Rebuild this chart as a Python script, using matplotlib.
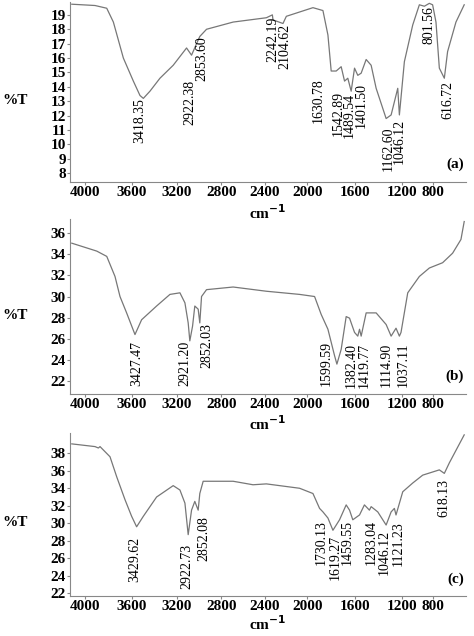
import matplotlib
matplotlib.use("Agg")
import matplotlib.pyplot as plt

# Panel (a)
wn_a = [4111,3883,3768,3703,3605,3507,3442,3409,3344,3246,3116,2985,2936,2887,2855,2789,2528,2202,2143,2137,2039,2006,1745,1647,1598,1566,1517,1468,1435,1403,1370,1337,1305,1272,1223,1174,1125,1027,978,913,897,848,766,701,652,603,571,538,505,456,424,342,261]
t_a = [19.74,19.65,19.46,18.5,16.0,14.4,13.4,13.2,13.7,14.6,15.5,16.7,16.2,17.0,17.5,18.0,18.5,18.8,19.0,18.65,18.4,18.9,19.5,19.3,17.6,15.1,15.1,15.4,14.4,14.6,13.7,15.3,14.8,14.95,15.9,15.5,13.9,11.8,12.05,13.9,12.05,15.75,18.3,19.7,19.6,19.8,19.7,18.5,15.3,14.6,16.45,18.5,19.7]
lab_a = ["3418.35","2922.38","2853.60","2242.19","2104.62","1630.78","1542.89","1489.54","1401.50","1162.60","1046.12","801.56","616.72"]
lx_a = [3442,2953,2838,2137,2023,1696,1501,1386,1272,1011,897,603,424]
ly_a = [13.2,14.5,17.5,18.9,18.4,14.6,13.7,13.6,14.25,11.25,11.8,19.6,14.4]

# Panel (b)
wn_b = [4111,3866,3768,3687,3638,3573,3491,3426,3279,3148,3050,3001,2969,2953,2926,2904,2871,2855,2838,2789,2528,2202,1876,1729,1664,1598,1533,1510,1468,1419,1386,1337,1305,1288,1272,1223,1125,1027,978,930,897,881,815,701,603,473,375,293,261]
t_b = [35.05,34.3,33.8,31.9,30.0,28.45,26.4,27.8,29.1,30.2,30.35,29.4,27.5,25.8,27.2,29.1,28.8,27.5,30.0,30.65,30.9,30.5,30.2,30.0,28.3,26.9,24.4,23.6,25.0,28.1,27.95,26.6,26.25,26.9,26.25,28.45,28.45,27.35,26.25,27.0,26.25,26.6,30.35,31.9,32.7,33.2,34.1,35.4,37.1]
lab_b = ["3427.47","2921.20","2852.03","1599.59","1382.40","1419.77","1114.90","1037.11"]
lx_b = [3475,3001,2789,1615,1370,1240,1027,864]
ly_b = [25.8,25.8,27.5,25.8,25.6,25.6,25.6,25.6]

# Panel (c)
wn_c = [4111,3883,3850,3834,3736,3670,3589,3524,3475,3409,3279,3116,3050,3001,2969,2936,2904,2871,2855,2822,2528,2333,2202,1876,1745,1680,1647,1598,1549,1484,1419,1386,1354,1288,1240,1191,1174,1109,1027,978,946,930,864,766,668,505,456,407,261]
t_c = [39.07,38.76,38.6,38.76,37.6,35.3,32.7,30.8,29.6,30.8,33.0,34.3,33.8,32.3,28.7,31.5,32.5,31.5,33.4,34.8,34.8,34.4,34.5,34.0,33.4,31.7,31.3,30.6,29.2,30.4,32.1,31.5,30.4,30.95,32.1,31.5,31.9,31.3,29.8,31.3,31.7,30.95,33.6,34.6,35.5,36.1,35.7,36.9,40.1]
lab_c = ["3429.62","2922.73","2852.08","1730.13","1619.27","1459.55","1283.04","1046.12","1121.23","618.13"]
lx_c = [3491,2985,2815,1664,1525,1405,1174,1044,913,456]
ly_c = [28.5,27.7,30.8,30.4,28.7,30.4,30.4,29.2,30.2,35.1]

# tick labels as printed in the reference (placed unevenly there)
xtick_labels = ["4000","3600","3200","2800","2400","2000","1600","1200","800"]
xtick_pos = [3980,3524,3083,2643,2218,1800,1330,870,570]
yt_a = list(range(8, 20))
yt_b = list(range(22, 37, 2))
yt_c = list(range(22, 39, 2))

serif = "Liberation Serif"
fig = plt.figure(figsize=(4.74, 6.36), dpi=100)
panels = [
    ([0.148, 0.714, 0.835, 0.283], wn_a, t_a, lab_a, lx_a, ly_a, yt_a, (7.4, 19.9), "(a)"),
    ([0.148, 0.381, 0.835, 0.274], wn_b, t_b, lab_b, lx_b, ly_b, yt_b, (20.8, 37.3), "(b)"),
    ([0.148, 0.063, 0.835, 0.256], wn_c, t_c, lab_c, lx_c, ly_c, yt_c, (21.7, 40.3), "(c)"),
]
for rect, wn, t, labs, lx, ly, yt, ylim, tag in panels:
    ax = fig.add_axes(rect)
    ax.plot(wn, t, color="#777777", lw=0.9)
    ax.set_xlim(4127, 244)
    ax.set_ylim(*ylim)
    ax.set_xticks(xtick_pos)
    ax.set_xticklabels(xtick_labels)
    ax.set_yticks(yt)
    for s in ["top", "right"]:
        ax.spines[s].set_visible(False)
    for s in ["left", "bottom"]:
        ax.spines[s].set_color("#888888")
    ax.tick_params(length=2, color="#888888", pad=1)
    for lbl in ax.get_xticklabels() + ax.get_yticklabels():
        lbl.set_fontfamily(serif)
        lbl.set_fontweight("bold")
        lbl.set_fontsize(11)
    for s, x, y in zip(labs, lx, ly):
        ax.text(x, y, s, rotation=90, va="top", ha="center", fontsize=10, family=serif)
    ax.text(0.995, 0.1, tag, transform=ax.transAxes, ha="right", va="center",
            fontsize=11, fontweight="bold", family=serif)
    ax.text(-0.14, 0.45, "%T", transform=ax.transAxes, ha="center", va="center",
            fontsize=11, fontweight="bold", family=serif)
    ax.text(0.5, -0.17, "cm$^{\\mathbf{-1}}$", transform=ax.transAxes, ha="center", va="center",
            fontsize=11, fontweight="bold", family=serif)

fig.savefig("out.png", dpi=100)
